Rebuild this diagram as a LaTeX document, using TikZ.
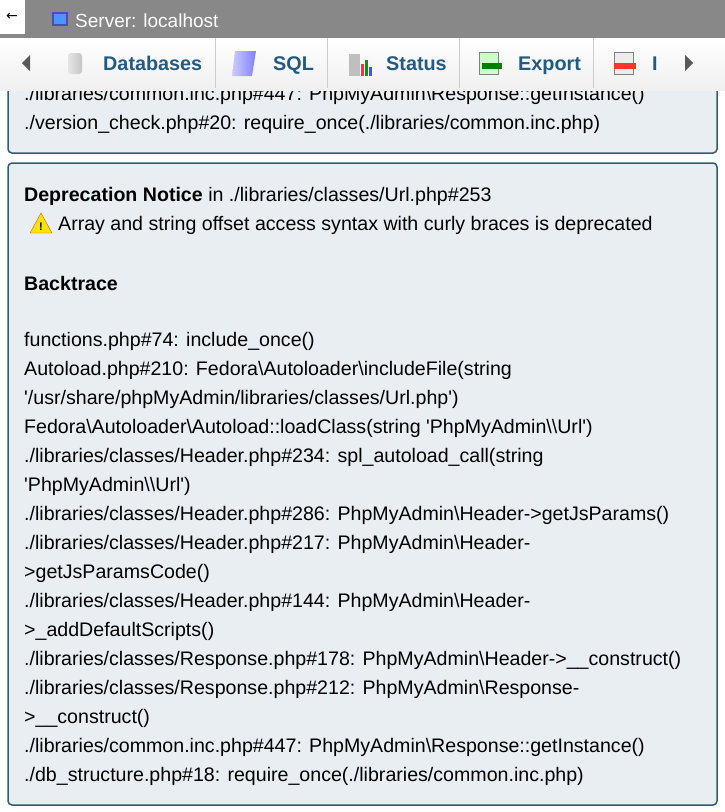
\documentclass[tikz,border=0pt]{standalone}
\usepackage{fontspec}
\setmainfont{Liberation Sans}
\newfontfamily\djv{DejaVu Sans}
\definecolor{boxfill}{HTML}{E8EEF2}
\definecolor{boxline}{HTML}{2F5F6E}
\definecolor{tabtxt}{HTML}{235A81}
\definecolor{topbar}{HTML}{888888}
\newcommand{\sq}{\textquotesingle}
\begin{document}
\begin{tikzpicture}[x=1pt,y=-1pt,
  txt/.style={anchor=west,inner sep=0pt,font=\fontsize{19.6}{21}\selectfont},
  tab/.style={anchor=base west,inner sep=0pt,font=\fontsize{19.8}{21}\selectfont\bfseries,text=tabtxt},
  msgbox/.style={draw=boxline,line width=1.5pt,fill=boxfill,rounded corners=4pt}]
\useasboundingbox (0,0) rectangle (725,812);
\fill[white] (0,0) rectangle (725,812);
% box 1
\draw[msgbox] (8,20) rectangle (717,153);
\node[txt] (l1) at (24,95) {./libraries/common.inc.php\#447: PhpMyAdmin\textbackslash Response::getInstance()};
\node[txt] (l2) at (24,124) {./version\_check.php\#20: require\_once(./libraries/common.inc.php)};
% top bar
\fill[topbar] (0,0) rectangle (725,38);
\fill[white] (0,0) rectangle (25,34);
\node[inner sep=0pt,font=\djv\fontsize{14}{14}\selectfont] (back) at (12,17) {←};
\fill[blue!40!gray] (52,12) rectangle (68,26);
\fill[blue!60!cyan!70] (54,14) rectangle (66,24);
\node[txt,font=\fontsize{19}{20}\selectfont,text=white] (srv) at (75,21) {Server: localhost};
% tab bar
\shade[top color=white,bottom color=gray!12] (0,38) rectangle (725,90);
\foreach \x in {215,327,459,593}{\draw[gray!40,line width=1pt] (\x,38) -- (\x,88);}
\fill[gray!70!black] (22,63) -- (30,55) -- (30,71) -- cycle;
\fill[gray!70!black] (693,63) -- (685,55) -- (685,71) -- cycle;
% icons
\shade[left color=gray!20,right color=gray!45,rounded corners=3pt] (68,53) rectangle (82,74);
\shade[left color=blue!20,right color=blue!50] (235,51) -- (256,51) -- (252,76) -- (232,76) -- cycle;
\fill[gray!50] (349,54) rectangle (360,76);
\fill[red!80] (361,64) rectangle (364,76);
\fill[green!60!black] (365,60) rectangle (368,76);
\fill[blue!70] (369,67) rectangle (372,76);
\fill[green!20!white] (479,52) rectangle (498,74);
\draw[gray] (479,52) rectangle (498,74);
\fill[green!50!black] (482,63) rectangle (502,69);
\fill[gray!15] (614,52) rectangle (633,74);
\draw[gray] (614,52) rectangle (633,74);
\fill[red!80] (614,63) rectangle (636,69);
\node[tab] (t1) at (103,70) {Databases};
\node[tab] (t2) at (273,70) {SQL};
\node[tab] (t3) at (386,70) {Status};
\node[tab] (t4) at (518,70) {Export};
\node[tab] (t5) at (652,70) {I};
% box 2
\draw[msgbox] (8,163) rectangle (717,805);
\node[txt] (h) at (24,196) {\textbf{Deprecation Notice} in ./libraries/classes/Url.php\#253};
\fill[yellow!85!orange,draw=orange!80!black,line join=round] (41,213) -- (52,233) -- (30,233) -- cycle;
\node[inner sep=0pt,font=\bfseries\fontsize{11}{11}\selectfont] (ex) at (41,227) {!};
\node[txt] (w) at (58,225) {Array and string offset access syntax with curly braces is deprecated};
\node[txt] (bt) at (24,283) {\textbf{Backtrace}};
\foreach \t [count=\i from 0] in {
 {functions.php\#74: include\_once()},
 {Autoload.php\#210: Fedora\textbackslash Autoloader\textbackslash includeFile(string},
 {\sq/usr/share/phpMyAdmin/libraries/classes/Url.php\sq)},
 {Fedora\textbackslash Autoloader\textbackslash Autoload::loadClass(string \sq PhpMyAdmin\textbackslash\textbackslash Url\sq)},
 {./libraries/classes/Header.php\#234: spl\_autoload\_call(string},
 {\sq PhpMyAdmin\textbackslash\textbackslash Url\sq)},
 {./libraries/classes/Header.php\#286: PhpMyAdmin\textbackslash Header->getJsParams()},
 {./libraries/classes/Header.php\#217: PhpMyAdmin\textbackslash Header-},
 {>getJsParamsCode()},
 {./libraries/classes/Header.php\#144: PhpMyAdmin\textbackslash Header-},
 {>\_addDefaultScripts()},
 {./libraries/classes/Response.php\#178: PhpMyAdmin\textbackslash Header->\_\_construct()},
 {./libraries/classes/Response.php\#212: PhpMyAdmin\textbackslash Response-},
 {>\_\_construct()},
 {./libraries/common.inc.php\#447: PhpMyAdmin\textbackslash Response::getInstance()},
 {./db\_structure.php\#18: require\_once(./libraries/common.inc.php)}}
 {\node[txt] (b\i) at (24,341+29*\i) {\t};}
\end{tikzpicture}
\end{document}
